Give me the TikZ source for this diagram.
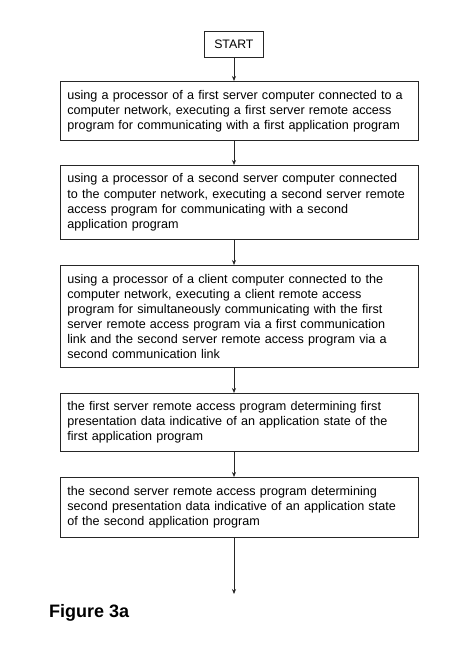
\documentclass[tikz,border=0pt]{standalone}
\usepackage{fontspec}
\setmainfont{Liberation Sans}
\usetikzlibrary{arrows.meta}
\newcommand{\mynohyph}{\hyphenpenalty=10000\relax\exhyphenpenalty=10000\relax}
\begin{document}
\begin{tikzpicture}[x=1pt,y=1pt,
  box/.style={draw=black!85, line width=0.7pt, rectangle, anchor=north west,
    minimum width=358pt, text width=344pt, inner xsep=7pt, inner ysep=0pt,
    align=left, font=\fontsize{12.6}{15.1}\selectfont\mynohyph},
  startbox/.style={draw=black!85, line width=0.7pt, rectangle, anchor=north west,
    minimum width=59pt, minimum height=26pt, inner sep=0pt, font=\fontsize{12.3}{15}\selectfont},
  arr/.style={draw=black!85, line width=0.7pt, -{Stealth[length=5pt,width=4pt]}}]
\useasboundingbox (0,0) rectangle (474,-647);
\node[startbox] (start) at (204,-31) {START};
\node[box, minimum height=59pt] (b1) at (60,-81) {using a processor of a first server computer connected to a\\computer network, executing a first server remote access\\program for communicating with a first application program};
\node[box, minimum height=74pt] (b2) at (60,-165) {using a processor of a second server computer connected\\to the computer network, executing a second server remote\\access program for communicating with a second\\application program};
\node[box, minimum height=102pt] (b3) at (60,-265) {using a processor of a client computer connected to the\\computer network, executing a client remote access\\program for simultaneously communicating with the first\\server remote access program via a first communication\\link and the second server remote access program via a\\second communication link};
\node[box, minimum height=58pt] (b4) at (60,-393) {the first server remote access program determining first\\presentation data indicative of an application state of the\\first application program};
\node[box, minimum height=60pt] (b5) at (60,-477) {the second server remote access program determining\\second presentation data indicative of an application state\\of the second application program};
\coordinate (ax) at (234,0);
\coordinate (end) at (234,-594);
\draw[arr] (start.south -| ax) -- (b1.north -| ax);
\draw[arr] (b1.south -| ax) -- (b2.north -| ax);
\draw[arr] (b2.south -| ax) -- (b3.north -| ax);
\draw[arr] (b3.south -| ax) -- (b4.north -| ax);
\draw[arr] (b4.south -| ax) -- (b5.north -| ax);
\draw[arr] (b5.south -| ax) -- (end);
\node[anchor=base west, inner sep=0pt, font=\fontsize{18}{20}\selectfont\bfseries] (fig) at (49,-617) {Figure 3a};
\end{tikzpicture}
\end{document}
